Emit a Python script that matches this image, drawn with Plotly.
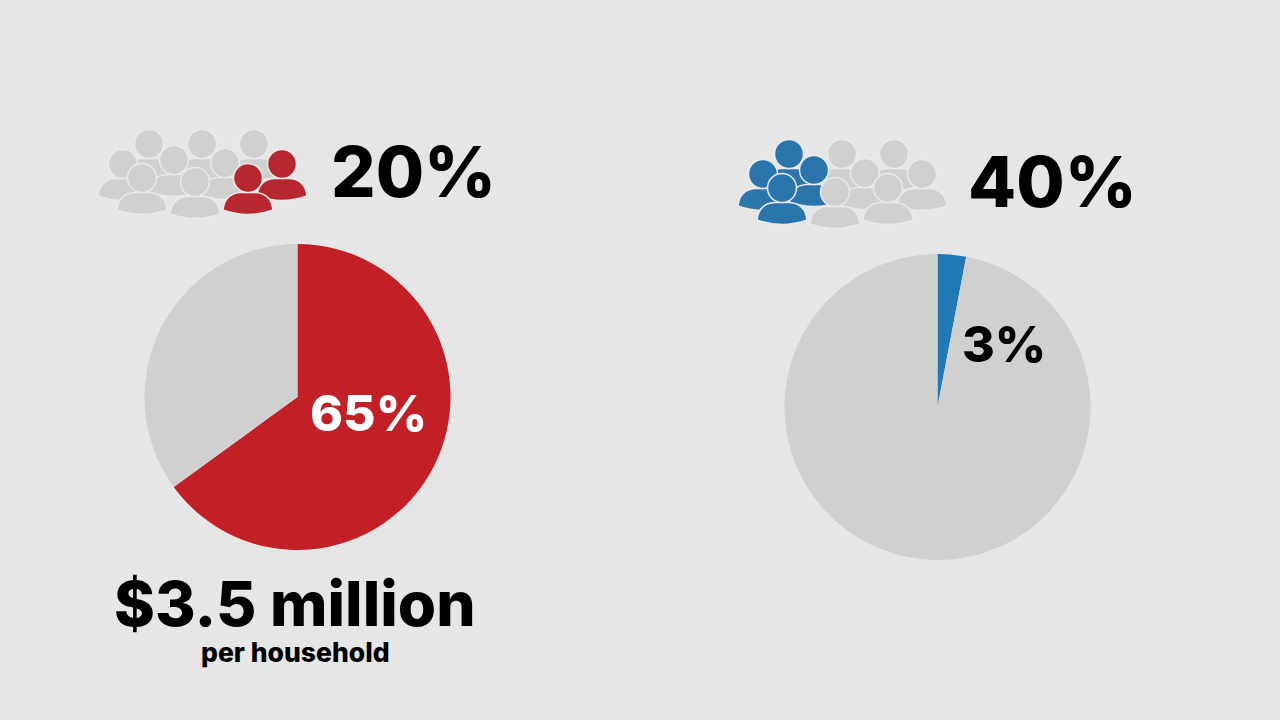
import plotly.graph_objects as go

W, H = 1280, 720
BG = "#e6e6e6"; GREY = "#d0d0d0"; RED = "#c22026"; BLUE = "#2079b4"; ICON_RED = "#b8272f"; ICON_BLUE = "#2a75ab"; ICON_GREY = "#d0d0d0"

left_values = [65, 35]
left_labels = ["Wealth share", "Others"]
right_values = [3, 97]
right_labels = ["Wealth share", "Others"]

# people icons: head-centre positions, back to front
people_x = [149, 202, 254, 123, 174, 225, 282, 142, 195, 248]
people_y = [144, 144, 144, 164, 160, 163, 164, 178, 182, 178]
left_colored = [6, 9]
right_colored = [0, 3, 4, 7]
right_dx, right_dy = 640, 10

texts = [
    ("20%", 413, 171, 70, "#000000"),
    ("40%", 1052, 181, 70, "#000000"),
    ("65%", 368, 413, 50, "#ffffff"),
    ("3%", 1004, 344, 50, "#000000"),
    ("$3.5 million", 295, 603, 62, "#000000"),
    ("per household", 295, 652, 26.5, "#000000"),
]

def person(cx, cy, color):
    hw = 25
    top = cy + 14.5; edge = cy + 32; mid = cy + 41
    halo = "#e9e9e9"
    body = (f"M {cx-hw},{edge} C {cx-hw+1},{top+7} {cx-hw+7},{top+1} {cx-8},{top} "
            f"L {cx+8},{top} C {cx+hw-7},{top+1} {cx+hw-1},{top+7} {cx+hw},{edge} "
            f"Q {cx},{mid} {cx-hw},{edge} Z")
    return [
        dict(type="path", path=body, xref="x", yref="y", fillcolor=color, line=dict(color=halo, width=1.5), layer="above"),
        dict(type="circle", x0=cx-14.5, x1=cx+14.5, y0=cy-14.5, y1=cy+14.5, xref="x", yref="y", fillcolor=color,
             line=dict(color=halo, width=1.5), layer="above"),
    ]

def pie_domain(cx, cy, r):
    return dict(x=[(cx-r)/W, (cx+r)/W], y=[1-(cy+r)/H, 1-(cy-r)/H])

fig = go.Figure()
fig.add_trace(go.Pie(values=left_values, labels=left_labels, sort=False, direction="clockwise", rotation=0,
                     marker=dict(colors=[RED, GREY], line=dict(width=0)), textinfo="none", hoverinfo="label+percent",
                     domain=pie_domain(297.5, 397, 153), showlegend=False))
fig.add_trace(go.Pie(values=right_values, labels=right_labels, sort=False, direction="clockwise", rotation=0,
                     marker=dict(colors=[BLUE, GREY], line=dict(width=0)), textinfo="none", hoverinfo="label+percent",
                     domain=pie_domain(937.5, 407, 153), showlegend=False))

shapes = []
for i, (x, y) in enumerate(zip(people_x, people_y)):
    shapes += person(x, y, ICON_RED if i in left_colored else ICON_GREY)
for i, (x, y) in enumerate(zip(people_x, people_y)):
    shapes += person(x + right_dx, y + right_dy, ICON_BLUE if i in right_colored else ICON_GREY)

annotations = [dict(text=t, x=x, y=y, xref="x", yref="y", showarrow=False, xanchor="center", yanchor="middle",
                    font=dict(family="Inter", size=s, color=c, weight=800)) for t, x, y, s, c in texts]

fig.update_layout(
    width=W, height=H, autosize=False, margin=dict(l=0, r=0, t=0, b=0),
    paper_bgcolor=BG, plot_bgcolor="rgba(0,0,0,0)",
    xaxis=dict(range=[0, W], visible=False, fixedrange=True),
    yaxis=dict(range=[H, 0], visible=False, fixedrange=True),
    shapes=shapes, annotations=annotations,
)
fig.write_html("out.html", config=dict(displayModeBar=False),
               post_script="document.body.style.margin='0';document.body.style.background='#e6e6e6';document.body.style.overflow='hidden';")
